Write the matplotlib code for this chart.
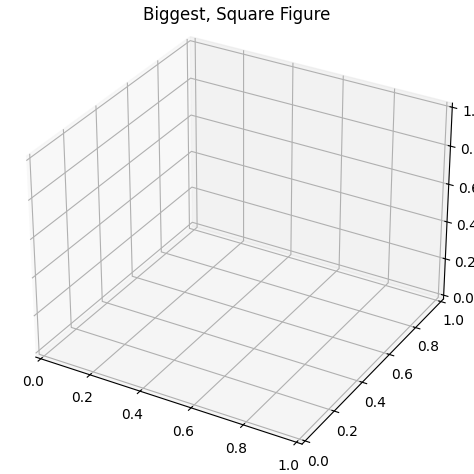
import numpy as np
import matplotlib.pyplot as plt

plt.rcParams['axes3d.automargin'] = True

title = "Biggest, Square Figure"
xlim = [0, 1]
ylim = [0, 1]
zlim = [0, 1]

fig = plt.figure(figsize=(4.74, 4.74), dpi=100)
ax = fig.add_axes([0, 0, 1, 1], projection='3d')
ax.set_xlim(xlim)
ax.set_ylim(ylim)
ax.set_zlim(zlim)
ax.tick_params(axis='both', pad=0.5)
ax.tick_params(axis='z', pad=1)
# title sits inside the figure, just above the box
fig.text(0.5, 1 - 15.5 / 474, title, ha='center', va='center', fontsize=12)
fig.savefig('out.png', dpi=100)
